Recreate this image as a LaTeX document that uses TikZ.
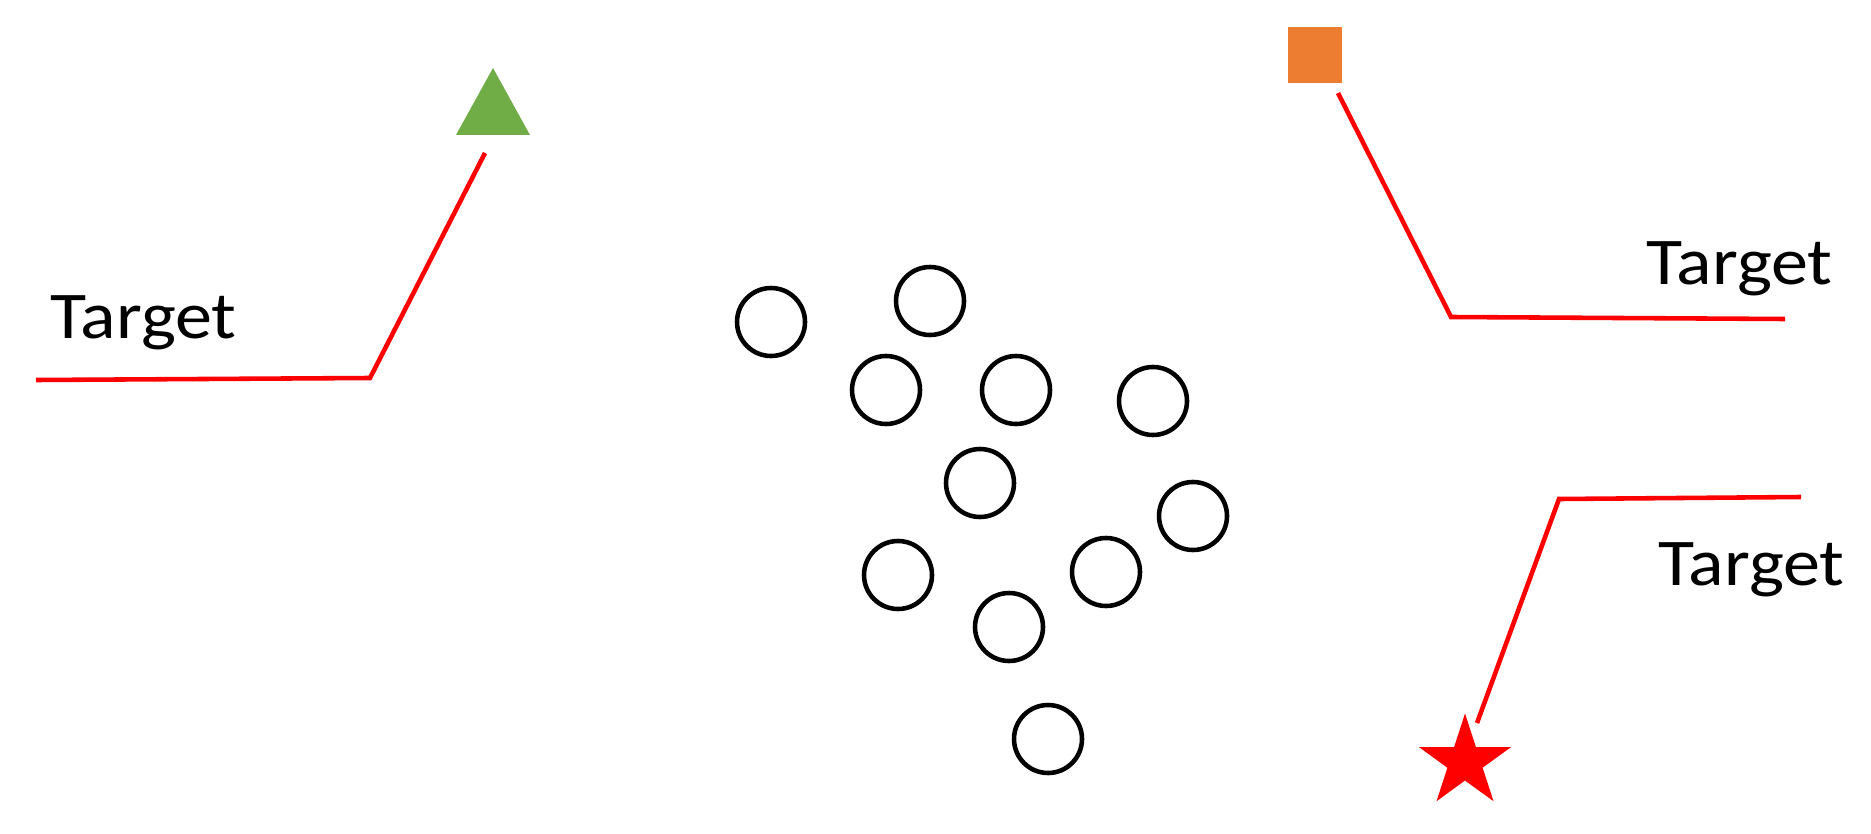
\documentclass[tikz,border=0pt]{standalone}
\usepackage{fontspec}
\usepackage{graphicx}
\setmainfont{Carlito}
\usetikzlibrary{shapes.geometric}

\definecolor{markgreen}{RGB}{112,173,71}
\definecolor{markorange}{RGB}{237,125,49}
\definecolor{markred}{RGB}{255,0,0}

\newcommand{\tagtext}[1]{\scalebox{1.11}[1]{#1}}

\tikzset{
	agent/.style={draw, circle, line width=2.6pt, minimum size=1.36cm, inner sep=0pt},
	route/.style={draw=markred, line width=2.6pt},
	tag/.style={anchor=base west, font=\fontsize{38}{42}\selectfont, inner sep=0pt},
}

\begin{document}
\begin{tikzpicture}[x=0.02cm, y=-0.02cm, line join=miter]
	
	\useasboundingbox (0,0) rectangle (1871,834);

% The swarm
\foreach \n/\x/\y in {1/771/322, 2/930/301, 3/886/390, 4/1016/390, 5/1153/401, 6/980/483,
	7/1193/516, 8/898/575, 9/1106/572, 10/1009/627, 11/1048/739}{
	\node[agent] (a\n) at (\x, \y) {};
}

% The targets
\fill[markgreen] (456,135) -- (493,68) -- (530,135) -- cycle;
\fill[markorange] (1288,27) rectangle (1342,83);
\node[star, star points=5, star point ratio=2.618, fill=markred, minimum size=1.94cm, inner sep=0pt]
	(goal3) at (1465,762) {};

	% Line ends
	\coordinate (tip1) at (485,153);
	\coordinate (bend1) at (370,378);
	\coordinate (end1) at (36,380);
	\coordinate (tip2) at (1338,93);
	\coordinate (bend2) at (1451,317);
	\coordinate (end2) at (1785,319);
	\coordinate (tip3) at (1477,723);
	\coordinate (bend3) at (1559,499);
	\coordinate (end3) at (1801,497);

	\draw[route] (tip1) -- (bend1) -- (end1);
	\draw[route] (tip2) -- (bend2) -- (end2);
	\draw[route] (tip3) -- (bend3) -- (end3);

	% Labels
	\node[tag] (lab1) at (50,338) {\tagtext{Target}};
	\node[tag] (lab2) at (1646,285) {\tagtext{Target}};
	\node[tag] (lab3) at (1658,585) {\tagtext{Target}};
\end{tikzpicture}
\end{document}
